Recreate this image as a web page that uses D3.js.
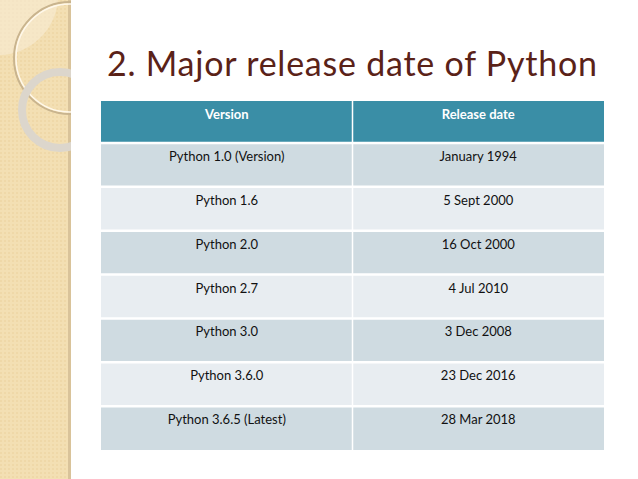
<!DOCTYPE html>
<html><head><meta charset="utf-8">
<script src="https://cdn.jsdelivr.net/npm/d3@7"></script>
<style>body{margin:0;background:#fff;}svg{display:block;}</style>
</head><body>
<svg id="chart" width="638" height="479"></svg>
<script>
const columns = ['Version', 'Release date'];
const versions = ['Python 1.0 (Version)', 'Python 1.6', 'Python 2.0', 'Python 2.7', 'Python 3.0', 'Python 3.6.0', 'Python 3.6.5 (Latest)'];
const releaseDates = ['January 1994', '5 Sept 2000', '16 Oct 2000', '4 Jul 2010', '3 Dec 2008', '23 Dec 2016', '28 Mar 2018'];

const svg = d3.select('#chart');
const font = '"Lato", "Open Sans", sans-serif';

// left decorative panel
const defs = svg.append('defs');
const pat = defs.append('pattern').attr('id', 'dots').attr('width', 4).attr('height', 4).attr('patternUnits', 'userSpaceOnUse');
pat.append('rect').attr('width', 4).attr('height', 4).attr('fill', '#f3dfb3');
pat.append('rect').attr('width', 2).attr('height', 2).attr('fill', '#efd8a8');
svg.append('rect').attr('width', 70).attr('height', 479).attr('fill', 'url(#dots)');
svg.append('rect').attr('x', 68).attr('width', 3).attr('height', 479).attr('fill', '#d9c39a');
const deco = svg.append('g');
deco.append('path').attr('d', 'M0,0 H58 A60,60 0 0 1 0,55 Z').attr('fill', '#f7ead0').attr('opacity', 0.7);
deco.append('circle').attr('cx', 70).attr('cy', 58).attr('r', 56).attr('fill', 'none').attr('stroke', '#c9b48e').attr('stroke-width', 2);
deco.append('circle').attr('cx', 70).attr('cy', 58).attr('r', 54).attr('fill', 'none').attr('stroke', '#fff8ea').attr('stroke-width', 1.5);
deco.append('circle').attr('cx', 60).attr('cy', 110).attr('r', 38).attr('fill', 'none').attr('stroke', '#dcd6cc').attr('stroke-width', 8);
svg.append('rect').attr('x', 71).attr('width', 567).attr('height', 479).attr('fill', '#fff');

// title
svg.append('text').attr('x', 107).attr('y', 76)
  .attr('font-family', '"Lato", "Open Sans", sans-serif').attr('font-size', 34)
  .attr('fill', '#5a2218').attr('textLength', 490)
  .text('2.  Major release date of Python');

// table
const left = 101, right = 604, headTop = 101, headH = 42;
const rowsIdx = d3.range(versions.length);
const y = d3.scaleBand().domain(rowsIdx).range([headTop + headH, 450]);
const x = d3.scaleBand().domain(columns).range([left, right]);

svg.append('rect').attr('x', left).attr('y', headTop).attr('width', right - left).attr('height', headH).attr('fill', '#3a8ea6');
columns.forEach(c => {
  svg.append('text').attr('x', x(c) + x.bandwidth() / 2).attr('y', headTop + 18)
    .attr('text-anchor', 'middle').attr('font-family', font).attr('font-weight', 'bold')
    .attr('font-size', 13).attr('fill', '#fff').text(c);
});

const rows = svg.selectAll('.row').data(rowsIdx).enter().append('g')
  .attr('transform', i => `translate(0,${y(i)})`);
rows.append('rect').attr('x', left).attr('width', right - left).attr('height', y.bandwidth())
  .attr('fill', i => i % 2 === 0 ? '#cfdbe1' : '#e8edf1');
rows.append('line').attr('x1', left).attr('x2', right).attr('y1', 0).attr('y2', 0)
  .attr('stroke', '#fff').attr('stroke-width', 2.5);
rows.append('text').attr('x', x(columns[0]) + x.bandwidth() / 2).attr('y', 18)
  .attr('text-anchor', 'middle').attr('font-family', font).attr('font-size', 13).attr('fill', '#111')
  .text(i => versions[i]);
rows.append('text').attr('x', x(columns[1]) + x.bandwidth() / 2).attr('y', 18)
  .attr('text-anchor', 'middle').attr('font-family', font).attr('font-size', 13).attr('fill', '#111')
  .text(i => releaseDates[i]);

svg.append('line').attr('x1', x(columns[1])).attr('x2', x(columns[1]))
  .attr('y1', headTop).attr('y2', 450).attr('stroke', '#fff').attr('stroke-width', 1.5);
</script>
</body></html>
